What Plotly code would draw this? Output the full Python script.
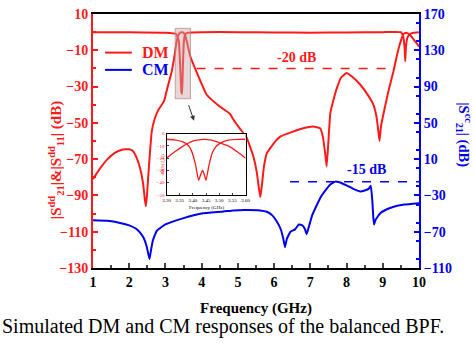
import plotly.graph_objects as go

# ---------------- data ----------------
# DM |S21| (dB), left axis
f_s21 = [1.0, 1.2, 1.4, 1.6, 1.8, 2.0, 2.1, 2.2, 2.3, 2.38, 2.43, 2.46, 2.49, 2.53, 2.57,
         2.62, 2.7, 2.8, 2.96, 3.05, 3.17, 3.25, 3.3, 3.35, 3.4, 3.45, 3.5, 3.55, 3.6, 3.68, 3.86,
         4.14, 4.5, 4.78, 4.87, 5.05, 5.24, 5.42, 5.52, 5.58, 5.62, 5.66, 5.72, 5.8, 6.0,
         6.17, 6.5, 6.8, 7.08, 7.27, 7.35, 7.41, 7.45, 7.49, 7.55, 7.63, 7.73, 7.85, 8.0,
         8.15, 8.38, 8.6, 8.74, 8.83, 8.88, 8.91, 8.95, 9.02, 9.15, 9.29, 9.4, 9.48, 9.57,
         9.65, 9.75, 9.85, 9.95, 10.0]
s21_dm = [-81, -75, -70, -66.5, -64.8, -64.5, -65.5, -69, -75, -83, -92, -96, -90, -78, -67,
          -55, -48, -43, -38, -31, -22, -13, -6, -2, -0.3, 0, -0.3, -2, -6, -13, -22,
          -34.5, -41, -45, -48, -53, -58, -68, -77, -86, -91, -85, -74, -66.7, -61,
          -57.6, -55, -53, -52, -53, -58, -67, -74, -63, -45, -38, -31, -25, -22.5,
          -24.5, -29, -35, -40, -47, -55, -60, -52, -45, -33, -22, -12, -6, -1,
          -0.3, -1.5, -4, -6.5, -8]

# DM |S11| (dB), left axis
f_s11 = [1.0, 2.0, 3.0, 3.3, 3.37, 3.41, 3.44, 3.46, 3.48, 3.51, 3.55, 3.62, 4.0, 5.0,
         6.0, 7.0, 8.0, 9.0, 9.5, 9.56, 9.6, 9.62, 9.64, 9.68, 9.75, 9.85, 10.0]
s11_dm = [0, 0, -0.3, -1, -5, -20, -33, -34, -20, -5, -1, -0.3, 0, 0,
          -0.2, -0.3, -0.2, 0, 0, -2, -8, -16, -8, -3, -1, -0.3, 0]

# CM |S21| (dB), right axis
f_cm = [1.0, 1.4, 1.75, 2.0, 2.2, 2.3, 2.4, 2.48, 2.53, 2.56, 2.59, 2.65, 2.76, 3.0, 3.5,
        4.0, 4.6, 4.87, 5.2, 5.61, 5.8, 5.95, 6.07, 6.18, 6.25, 6.3, 6.35, 6.45, 6.58,
        6.68, 6.78, 6.85, 6.9, 6.95, 7.05, 7.18, 7.3, 7.45, 7.55, 7.69, 7.8, 8.0, 8.2,
        8.38, 8.5, 8.61, 8.67, 8.71, 8.74, 8.76, 8.8, 8.93, 9.1, 9.3, 9.6, 10.0]
s21_cm = [-57.4, -58, -60.3, -63, -67, -71, -77, -86, -95, -100, -93, -80, -69, -62, -55,
          -50, -47.8, -46.5, -46, -46.5, -48, -52, -58.5, -67, -77, -87, -78, -70, -67.4,
          -62, -63, -67, -72.7, -66, -52, -40.6, -31, -22.8, -18, -14.8, -15.5, -19, -23,
          -25.6, -24.5, -22.8, -19.2, -35, -55, -62, -57, -49.6, -45.5, -42.4, -40, -38.5]

# Inset (zoom of the passband)
f_in = [3.30, 3.33, 3.36, 3.38, 3.395, 3.41, 3.422, 3.43, 3.437, 3.443, 3.45, 3.46,
        3.475, 3.49, 3.51, 3.54, 3.57, 3.60]
s21_in = [-20, -15, -10.5, -8, -6.5, -5.5, -5, -4.8, -4.6, -4.6, -4.7, -5,
          -5.5, -6.5, -8, -10.5, -15, -20]
s11_in = [-4.5, -5, -6.5, -9, -14, -25, -38, -33, -30, -33, -38, -27,
          -15, -10, -7, -5, -4.6, -4.5]

x_ticks_in = [3.30, 3.35, 3.40, 3.45, 3.50, 3.55, 3.60]

RED = "#ff1a1a"
BLUE = "#0000ee"
SERIF = "Liberation Serif, Times New Roman, Times, DejaVu Serif, serif"

fig = go.Figure()

fig.add_trace(go.Scatter(x=f_s21, y=s21_dm, mode="lines", name="DM", showlegend=False,
                         line=dict(color=RED, width=2, shape="spline", smoothing=0.3)))
fig.add_trace(go.Scatter(x=f_s11, y=s11_dm, mode="lines", name="s11", showlegend=False,
                         line=dict(color=RED, width=2, shape="spline", smoothing=0.3)))
fig.add_trace(go.Scatter(x=f_cm, y=s21_cm, mode="lines", name="CM", yaxis="y2", showlegend=False,
                         line=dict(color=BLUE, width=2, shape="spline", smoothing=0.3)))

# inset traces
fig.add_trace(go.Scatter(x=f_in, y=s21_in, mode="lines", xaxis="x3", yaxis="y3", showlegend=False,
                         line=dict(color=RED, width=1.3, shape="spline", smoothing=0.5)))
fig.add_trace(go.Scatter(x=f_in, y=s11_in, mode="lines", xaxis="x3", yaxis="y3", showlegend=False,
                         line=dict(color=RED, width=1.3, shape="spline", smoothing=0.5)))

# reference lines
fig.add_shape(type="line", x0=3.86, x1=9.34, y0=-20, y1=-20, xref="x", yref="y",
              line=dict(color=RED, width=1.5, dash="dash"))
fig.add_shape(type="line", x0=6.44, x1=10, y0=-15, y1=-15, xref="x", yref="y2",
              line=dict(color=BLUE, width=1.5, dash="dash"))
# highlighted passband box
fig.add_shape(type="rect", x0=3.27, x1=3.69, y0=-36.7, y1=2.1, xref="x", yref="y",
              fillcolor="rgba(200,165,165,0.45)", line=dict(color="rgba(180,130,130,0.7)", width=1),
              layer="above")
# legend keys
fig.add_shape(type="line", x0=0.037, x1=0.119, y0=0.848, y1=0.848, xref="paper", yref="paper",
              line=dict(color=RED, width=2))
fig.add_shape(type="line", x0=0.037, x1=0.119, y0=0.780, y1=0.780, xref="paper", yref="paper",
              line=dict(color=BLUE, width=2))

annos = [
    dict(x=0.144, y=0.848, xref="paper", yref="paper", xanchor="left", yanchor="middle",
         text="<b>DM</b>", showarrow=False, font=dict(family=SERIF, size=16, color=RED)),
    dict(x=0.144, y=0.780, xref="paper", yref="paper", xanchor="left", yanchor="middle",
         text="<b>CM</b>", showarrow=False, font=dict(family=SERIF, size=16, color=BLUE)),
    dict(x=6.63, y=-14, xref="x", yref="y", text="<b>-20 dB</b>", showarrow=False,
         font=dict(family=SERIF, size=14, color=RED)),
    dict(x=8.56, y=-1.3, xref="x", yref="y2", text="<b>-15 dB</b>", showarrow=False,
         font=dict(family=SERIF, size=14, color=BLUE)),
    dict(x=3.79, y=-48.8, xref="x", yref="y", ax=-6, ay=-17, text="", showarrow=True,
         arrowhead=2, arrowsize=1, arrowwidth=1, arrowcolor="#333333"),
    dict(x=-0.15, y=0.425, xref="paper", yref="paper", textangle=-90, showarrow=False,
         text="<b>|S<sup>dd</sup><sub>21</sub>|&amp;|S<sup>dd</sup><sub>11</sub>| (dB)</b>",
         font=dict(family=SERIF, size=15, color=RED)),
    dict(x=1.145, y=0.525, xref="paper", yref="paper", xanchor="center", textangle=90,
         showarrow=False, xshift=-2,
         text="<b>|S<sup>cc</sup><sub>21</sub>| (dB)</b>",
         font=dict(family=SERIF, size=14.5, color=BLUE)),
    dict(x=-0.285, y=-0.23, xref="paper", yref="paper", xanchor="left", yanchor="middle",
         showarrow=False, text="Simulated DM and CM responses of the balanced BPF.",
         font=dict(family=SERIF, size=20, color="black")),
    dict(x=0.347, y=0.222, xref="paper", yref="paper", showarrow=False,
         text="Frequency (GHz)", font=dict(family=SERIF, size=5, color="black")),
    dict(x=0.2, y=0.408, xref="paper", yref="paper", textangle=-90, showarrow=False,
         text="dB(S(2,1))", font=dict(family=SERIF, size=5, color=RED)),
]

fig.update_layout(
    width=474, height=344,
    margin=dict(l=93, r=55, t=7, b=76),
    paper_bgcolor="white", plot_bgcolor="white",
    font=dict(family=SERIF, size=14, color="black"),
    annotations=annos,
    showlegend=False,
    xaxis=dict(range=[1, 10], dtick=1, ticks="inside", ticklen=5, tickwidth=1.5,
               minor=dict(dtick=0.5, ticks="inside", ticklen=3),
               showline=True, linecolor="black", linewidth=2, mirror=True,
               showgrid=False, zeroline=False,
               tickfont=dict(family=SERIF, size=14, color="black", weight="bold"),
               title=dict(text="<b>Frequency (GHz)</b>", standoff=14,
                          font=dict(family=SERIF, size=15, color="black"))),
    yaxis=dict(range=[-130, 10], tick0=10, dtick=20, ticks="inside", ticklen=5, tickwidth=1.5,
               tickcolor=RED, minor=dict(dtick=10, ticks="inside", ticklen=3, tickcolor=RED),
               showline=True, linecolor=RED, linewidth=2, showgrid=False, zeroline=False,
               tickfont=dict(family=SERIF, size=14, color=RED, weight="bold")),
    yaxis2=dict(range=[-110, 170], tick0=170, dtick=40, ticks="inside", ticklen=5, tickwidth=1.5,
                tickcolor=BLUE, minor=dict(dtick=20, ticks="inside", ticklen=3, tickcolor=BLUE),
                overlaying="y", side="right", anchor="x",
                showline=True, linecolor=BLUE, linewidth=2, showgrid=False, zeroline=False,
                tickfont=dict(family=SERIF, size=14, color=BLUE, weight="bold")),
    xaxis3=dict(domain=[0.2255, 0.4678], anchor="y3", range=[3.30, 3.60], tickvals=x_ticks_in,
                ticktext=[f"{v:.2f}" for v in x_ticks_in], ticks="inside", ticklen=2,
                showline=True, linecolor="black", linewidth=1.2, mirror=True, showgrid=False,
                zeroline=False, tickfont=dict(family=SERIF, size=5, color="black")),
    yaxis3=dict(domain=[0.2874, 0.5287], anchor="x3", range=[-50, 0], dtick=10, ticks="inside",
                ticklen=2, showline=True, linecolor="black", linewidth=1.2, mirror=True,
                showgrid=False, zeroline=False, tickfont=dict(family=SERIF, size=5, color=RED)),
)

fig.write_html("out.html")
